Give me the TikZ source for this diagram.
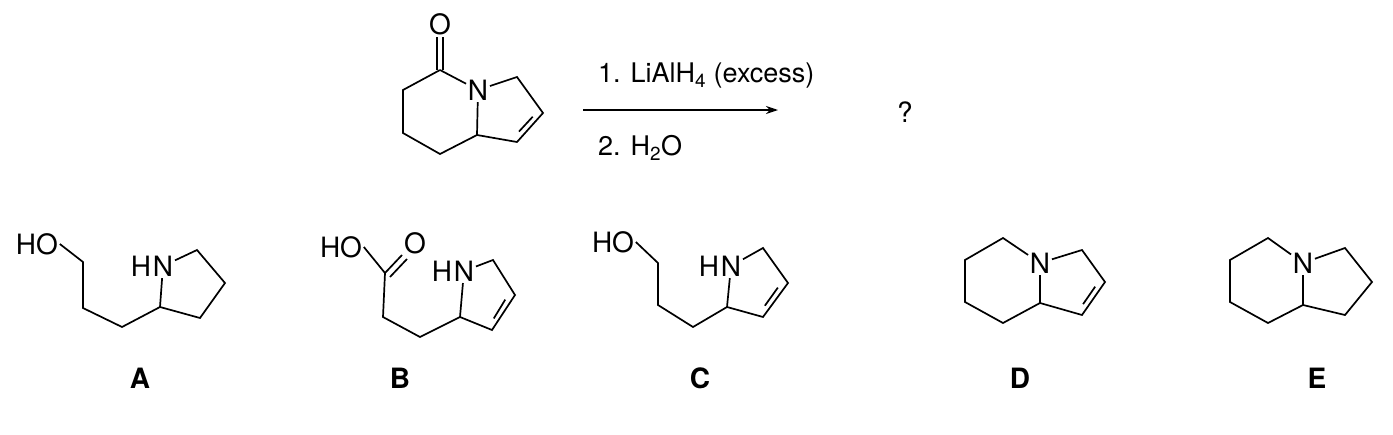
\documentclass[tikz,border=0pt]{standalone}
\usepackage{fontspec}
\setmainfont{TeX Gyre Heros}
\usetikzlibrary{calc,arrows.meta}
\begin{document}
\begin{tikzpicture}[x=1pt,y=-1pt,line width=1.7pt,
  atom/.style={inner sep=1pt,font=\fontsize{28}{30}\selectfont},
  hatom/.style={anchor=east,inner sep=0pt,xshift=1pt,font=\fontsize{28}{30}\selectfont},
  lbl/.style={font=\bfseries\fontsize{28}{30}\selectfont},
  txt/.style={font=\fontsize{27}{30}\selectfont,anchor=west}]
\useasboundingbox (0,0) rectangle (1393,434);
\newcommand\dbl[3]{\draw ($($(#1)!0.17!(#2)$)!6pt!(#3)$) -- ($($(#2)!0.17!(#1)$)!6pt!(#3)$);}
% starting material
\node[atom] (O0) at (440,24) {O};
\node[atom] (N0) at (478,90) {N};
\coordinate (c1) at (440,70); \coordinate (c2) at (403,90); \coordinate (c3) at (403,133);
\coordinate (c4) at (440,154); \coordinate (c5) at (477,135);
\coordinate (c6) at (517,77); \coordinate (c7) at (543,113); \coordinate (c8) at (517,142);
\coordinate (cc) at (510,112);
\draw (c1)--(c2)--(c3)--(c4)--(c5)--(N0)--(c1);
\draw (N0)--(c6)--(c7)--(c8)--(c5);
\dbl{c7}{c8}{cc}
\draw ($(c1)+(-3,0)$)--($(O0.south)+(-3,0)$); \draw ($(c1)+(3,0)$)--($(O0.south)+(3,0)$);
% arrow
\coordinate (a0) at (583,110); \coordinate (a1) at (778,110);
\draw[-{Stealth[length=12pt,width=8pt]},line width=1.5pt] (a0)--(a1);
\node[txt] (r1) at (594,76) {1. LiAlH\textsubscript{4} (excess)};
\node[txt] (r2) at (594,148) {2. H\textsubscript{2}O};
\node[atom] (q) at (905,112) {?};
% A
\node[atom] (HOa) at (37,244) {HO};
\node[atom] (Na) at (163,266) {N};
\node[hatom] (Ha) at (Na.west) {H};
\coordinate (a1) at (83,262); \coordinate (a2) at (83,308); \coordinate (a3) at (122,327);
\coordinate (a4) at (160,307); \coordinate (a5) at (197,250); \coordinate (a6) at (225,283); \coordinate (a7) at (200,318);
\draw (HOa.east)--(a1)--(a2)--(a3)--(a4)--(Na)--(a5)--(a6)--(a7)--(a4);
\node[lbl] (LA) at (140,378) {A};
% B
\node[atom] (HOb) at (341,247) {HO};
\node[atom] (Ob) at (415,243) {O};
\node[atom] (Nb) at (464,271) {N};
\node[hatom] (Hb) at (Nb.west) {H};
\coordinate (b1) at (385,273); \coordinate (b2) at (383,317); \coordinate (b3) at (420,337);
\coordinate (b4) at (460,317); \coordinate (b5) at (493,260); \coordinate (b6) at (515,295); \coordinate (b7) at (492,330);
\coordinate (bc) at (485,295);
\coordinate (bo1) at (402,255); \coordinate (bo2) at (390,277); \coordinate (bo3) at (407,259);
\draw (HOb.east)--(b1)--(b2)--(b3)--(b4)--(Nb)--(b5)--(b6)--(b7)--(b4);
\draw (b1)--(bo1); \draw (bo2)--(bo3);
\dbl{b6}{b7}{bc}
\node[lbl] (LB) at (400,378) {B};
% C
\node[atom] (HOc) at (613,242) {HO};
\node[atom] (Nc) at (731,266) {N};
\node[hatom] (Hc) at (Nc.west) {H};
\coordinate (e1) at (658,263); \coordinate (e2) at (658,305); \coordinate (e3) at (693,327);
\coordinate (e4) at (727,307); \coordinate (e5) at (763,248); \coordinate (e6) at (788,283); \coordinate (e7) at (763,317);
\coordinate (ec) at (755,283);
\draw (HOc.east)--(e1)--(e2)--(e3)--(e4)--(Nc)--(e5)--(e6)--(e7)--(e4);
\dbl{e6}{e7}{ec}
\node[lbl] (LC) at (700,378) {C};
% D
\node[atom] (Nd) at (1040,263) {N};
\coordinate (d1) at (1003,238); \coordinate (d2) at (965,260); \coordinate (d3) at (965,302);
\coordinate (d4) at (1003,323); \coordinate (d5) at (1040,303);
\coordinate (d6) at (1082,250); \coordinate (d7) at (1105,282); \coordinate (d8) at (1082,315);
\coordinate (dc) at (1072,283);
\draw (Nd)--(d1)--(d2)--(d3)--(d4)--(d5)--(Nd)--(d6)--(d7)--(d8)--(d5);
\dbl{d7}{d8}{dc}
\node[lbl] (LD) at (1020,378) {D};
% E
\node[atom] (Ne) at (1303,263) {N};
\coordinate (f1) at (1268,238); \coordinate (f2) at (1230,260); \coordinate (f3) at (1230,302);
\coordinate (f4) at (1268,323); \coordinate (f5) at (1303,305);
\coordinate (f6) at (1345,248); \coordinate (f7) at (1372,282); \coordinate (f8) at (1345,315);
\draw (Ne)--(f1)--(f2)--(f3)--(f4)--(f5)--(Ne)--(f6)--(f7)--(f8)--(f5);
\node[lbl] (LE) at (1317,378) {E};
\end{tikzpicture}
\end{document}
